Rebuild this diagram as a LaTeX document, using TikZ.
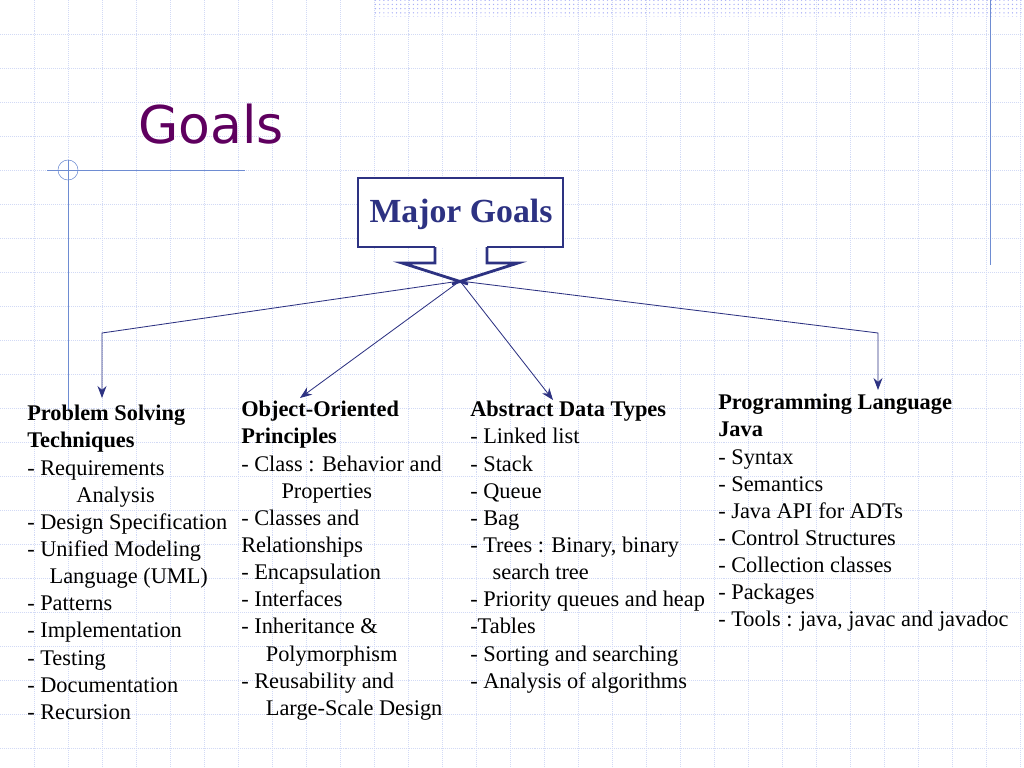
\documentclass[tikz,border=0pt]{standalone}
\usepackage{fontspec}
\setmainfont{Liberation Serif}
\setsansfont{DejaVu Sans}
\usetikzlibrary{positioning,arrows.meta,patterns}
\definecolor{gridblue}{RGB}{210,218,245}
\definecolor{navy}{RGB}{45,50,130}
\definecolor{titlepurple}{RGB}{95,0,95}
\definecolor{ornament}{RGB}{110,140,210}
\tikzset{
  goaltext/.style={anchor=north west, inner sep=0pt, align=left,
    font=\fontsize{15.9}{19.3}\selectfont},
  goalarrow/.style={navy, semithick, -{Stealth[length=3mm]}}
}
\begin{document}
\begin{tikzpicture}[x=0.025cm, y=-0.025cm]
  \useasboundingbox (0,0) rectangle (1024,768);
  % background grid
  \foreach \i in {34,68,...,1020} \draw[gridblue, densely dotted] (\i,0) -- (\i,768);
  \foreach \j in {34,68,...,766} \draw[gridblue, densely dotted] (0,\j) -- (1024,\j);
  \fill[pattern=dots, pattern color=gridblue!80!blue] (375,0) rectangle (1024,17);
  \draw[ornament] (990,0) -- (990,265);
  \draw[ornament] (47,170) -- (245,170);
  \draw[ornament] (68,160) -- (68,410);
  \draw[ornament] (68,170) circle (10);
  % title
  \node[anchor=west, inner sep=0pt, titlepurple, font=\sffamily\fontsize{37}{44}\selectfont] (title) at (138,124) {Goals};
  % callout
  \draw[navy, line width=2pt, fill=white] (435,247) -- (358,247) -- (358,178) -- (563,178) -- (563,247) -- (487,247);
  \draw[navy, line width=2pt] (487,247) -- (487,263) -- (518,263) -- (452,284);
  \draw[navy, line width=2pt] (435,247) -- (435,263) -- (402,263) -- (468,284);
  \node[navy, inner sep=0pt, font=\bfseries\fontsize{24}{28}\selectfont] (major) at (461,214) {Major Goals};
  \coordinate (hub) at (460,281);
  % columns
  \node[goaltext] (solve) at (27,405) {\textbf{Problem Solving}\\ \textbf{Techniques}\\ - Requirements\\ \hspace{2.2em}Analysis\\ - Design Specification\\ - Unified Modeling\\ \hspace{1em}Language (UML)\\ - Patterns\\ - Implementation\\ - Testing\\ - Documentation\\ - Recursion};
  \node[goaltext] (oop) at (241,401) {\textbf{Object-Oriented}\\ \textbf{Principles}\\ - Class : Behavior and\\ \hspace{1.8em}Properties\\ - Classes and\\ Relationships\\ - Encapsulation\\ - Interfaces\\ - Inheritance \&\\ \hspace{1.1em}Polymorphism\\ - Reusability and\\ \hspace{1.1em}Large-Scale Design};
  \node[goaltext] (adt) at (470,401) {\textbf{Abstract Data Types}\\ - Linked list\\ - Stack\\ - Queue\\ - Bag\\ - Trees : Binary, binary\\ \hspace{1em}search tree\\ - Priority queues and heap\\ -Tables\\ - Sorting and searching\\ - Analysis of algorithms};
  \node[goaltext] (java) at (718,394) {\textbf{Programming Language}\\ \textbf{Java}\\ - Syntax\\ - Semantics\\ - Java API for ADTs\\ - Control Structures\\ - Collection classes\\ - Packages\\ - Tools : java, javac and javadoc};
  % connectors
  \draw[goalarrow] (hub) -- (102,333) -- (102,398);
  \draw[goalarrow] (hub) -- (300,398);
  \draw[goalarrow] (hub) -- (553,400);
  \draw[goalarrow] (hub) -- (878,333) -- (878,390);
\end{tikzpicture}
\end{document}
